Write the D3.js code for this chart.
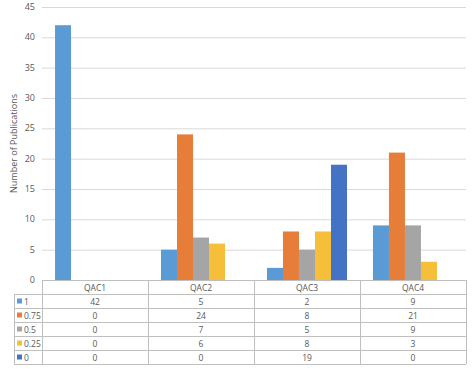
<!DOCTYPE html>
<html>
<head>
<meta charset="utf-8">
<script src="https://cdn.jsdelivr.net/npm/d3@7"></script>
<style>
  body { margin: 0; background: #fff; }
  text { font-family: "Open Sans", "Liberation Sans", sans-serif; fill: #595959; }
</style>
</head>
<body>
<div id="chart"></div>
<script>
var categories = ["QAC1", "QAC2", "QAC3", "QAC4"];
var seriesNames = ["1", "0.75", "0.5", "0.25", "0"];
var seriesColors = ["#5B9BD5", "#E67E3A", "#A5A5A5", "#F6BF3A", "#4472C4"];
var values = [
  [42, 5, 2, 9],
  [0, 24, 8, 21],
  [0, 7, 5, 9],
  [0, 6, 8, 3],
  [0, 0, 19, 0]
];
var yTicks = [0, 5, 10, 15, 20, 25, 30, 35, 40, 45];

var width = 474, height = 369;
var margin = {top: 7, left: 42, right: 8, bottom: 89};
var plotBottom = height - margin.bottom;

var svg = d3.select("#chart").append("svg")
    .attr("width", width)
    .attr("height", height);

var x = d3.scaleBand()
    .domain(categories)
    .range([margin.left, width - margin.right])
    .paddingInner(0.245)
    .paddingOuter(0.123);

// outer band used for the table columns (no padding)
var xCol = d3.scaleBand()
    .domain(categories)
    .range([margin.left, width - margin.right]);

var xs = d3.scaleBand()
    .domain(seriesNames)
    .range([0, x.bandwidth()]);

var y = d3.scaleLinear()
    .domain([0, 45])
    .range([plotBottom, margin.top]);

// gridlines
svg.append("g")
    .selectAll("line")
    .data(yTicks.slice(1))
    .join("line")
    .attr("x1", margin.left)
    .attr("x2", width - margin.right)
    .attr("y1", d => y(d) + 0.5)
    .attr("y2", d => y(d) + 0.5)
    .attr("stroke", "#d9d9d9");

// y axis labels
svg.append("g")
    .selectAll("text")
    .data(yTicks)
    .join("text")
    .attr("x", 35)
    .attr("y", d => y(d))
    .attr("dy", "0.35em")
    .attr("text-anchor", "end")
    .style("font-size", "9px")
    .text(d => d);

svg.append("text")
    .attr("transform", `translate(17,${(margin.top + plotBottom) / 2}) rotate(-90)`)
    .attr("text-anchor", "middle")
    .style("font-size", "9px")
    .text("Number of Publications");

// bars
seriesNames.forEach((s, i) => {
  svg.append("g")
      .attr("fill", seriesColors[i])
    .selectAll("rect")
    .data(values[i])
    .join("rect")
      .attr("x", (d, j) => x(categories[j]) + xs(s))
      .attr("width", xs.bandwidth())
      .attr("y", d => y(d))
      .attr("height", d => y(0) - y(d));
});

// data table
var rowH = 14;
var tableTop = plotBottom;
var legendLeft = 14;
var tableRight = width - margin.right;
var grid = svg.append("g").attr("stroke", "#bfbfbf").attr("fill", "none");

// header row top
grid.append("line")
    .attr("x1", margin.left).attr("x2", tableRight)
    .attr("y1", tableTop + 0.5).attr("y2", tableTop + 0.5);
// row lines
d3.range(1, seriesNames.length + 2).forEach(r => {
  grid.append("line")
      .attr("x1", legendLeft).attr("x2", tableRight)
      .attr("y1", tableTop + r * rowH + 0.5).attr("y2", tableTop + r * rowH + 0.5);
});
// vertical lines
grid.append("line")
    .attr("x1", legendLeft + 0.5).attr("x2", legendLeft + 0.5)
    .attr("y1", tableTop + rowH).attr("y2", tableTop + (seriesNames.length + 1) * rowH);
categories.concat([null]).forEach(c => {
  var xx = c === null ? tableRight : xCol(c);
  grid.append("line")
      .attr("x1", xx + 0.5).attr("x2", xx + 0.5)
      .attr("y1", tableTop).attr("y2", tableTop + (seriesNames.length + 1) * rowH);
});

// header labels
svg.append("g")
    .selectAll("text")
    .data(categories)
    .join("text")
    .attr("x", d => xCol(d) + xCol.bandwidth() / 2)
    .attr("y", tableTop + rowH / 2 + 1)
    .attr("dy", "0.35em")
    .attr("text-anchor", "middle")
    .style("font-size", "8.5px")
    .text(d => d);

// legend + values
seriesNames.forEach((s, i) => {
  var ry = tableTop + (i + 1) * rowH;
  svg.append("rect")
      .attr("x", 17).attr("y", ry + rowH / 2 - 2.5)
      .attr("width", 5).attr("height", 5)
      .attr("fill", seriesColors[i]);
  svg.append("text")
      .attr("x", 24).attr("y", ry + rowH / 2 + 1)
      .attr("dy", "0.35em")
      .style("font-size", "8.5px")
      .text(s);
  svg.append("g")
    .selectAll("text")
    .data(values[i])
    .join("text")
    .attr("x", (d, j) => xCol(categories[j]) + xCol.bandwidth() / 2)
    .attr("y", ry + rowH / 2 + 1)
    .attr("dy", "0.35em")
    .attr("text-anchor", "middle")
    .style("font-size", "8.5px")
    .text(d => d);
});
</script>
</body>
</html>
